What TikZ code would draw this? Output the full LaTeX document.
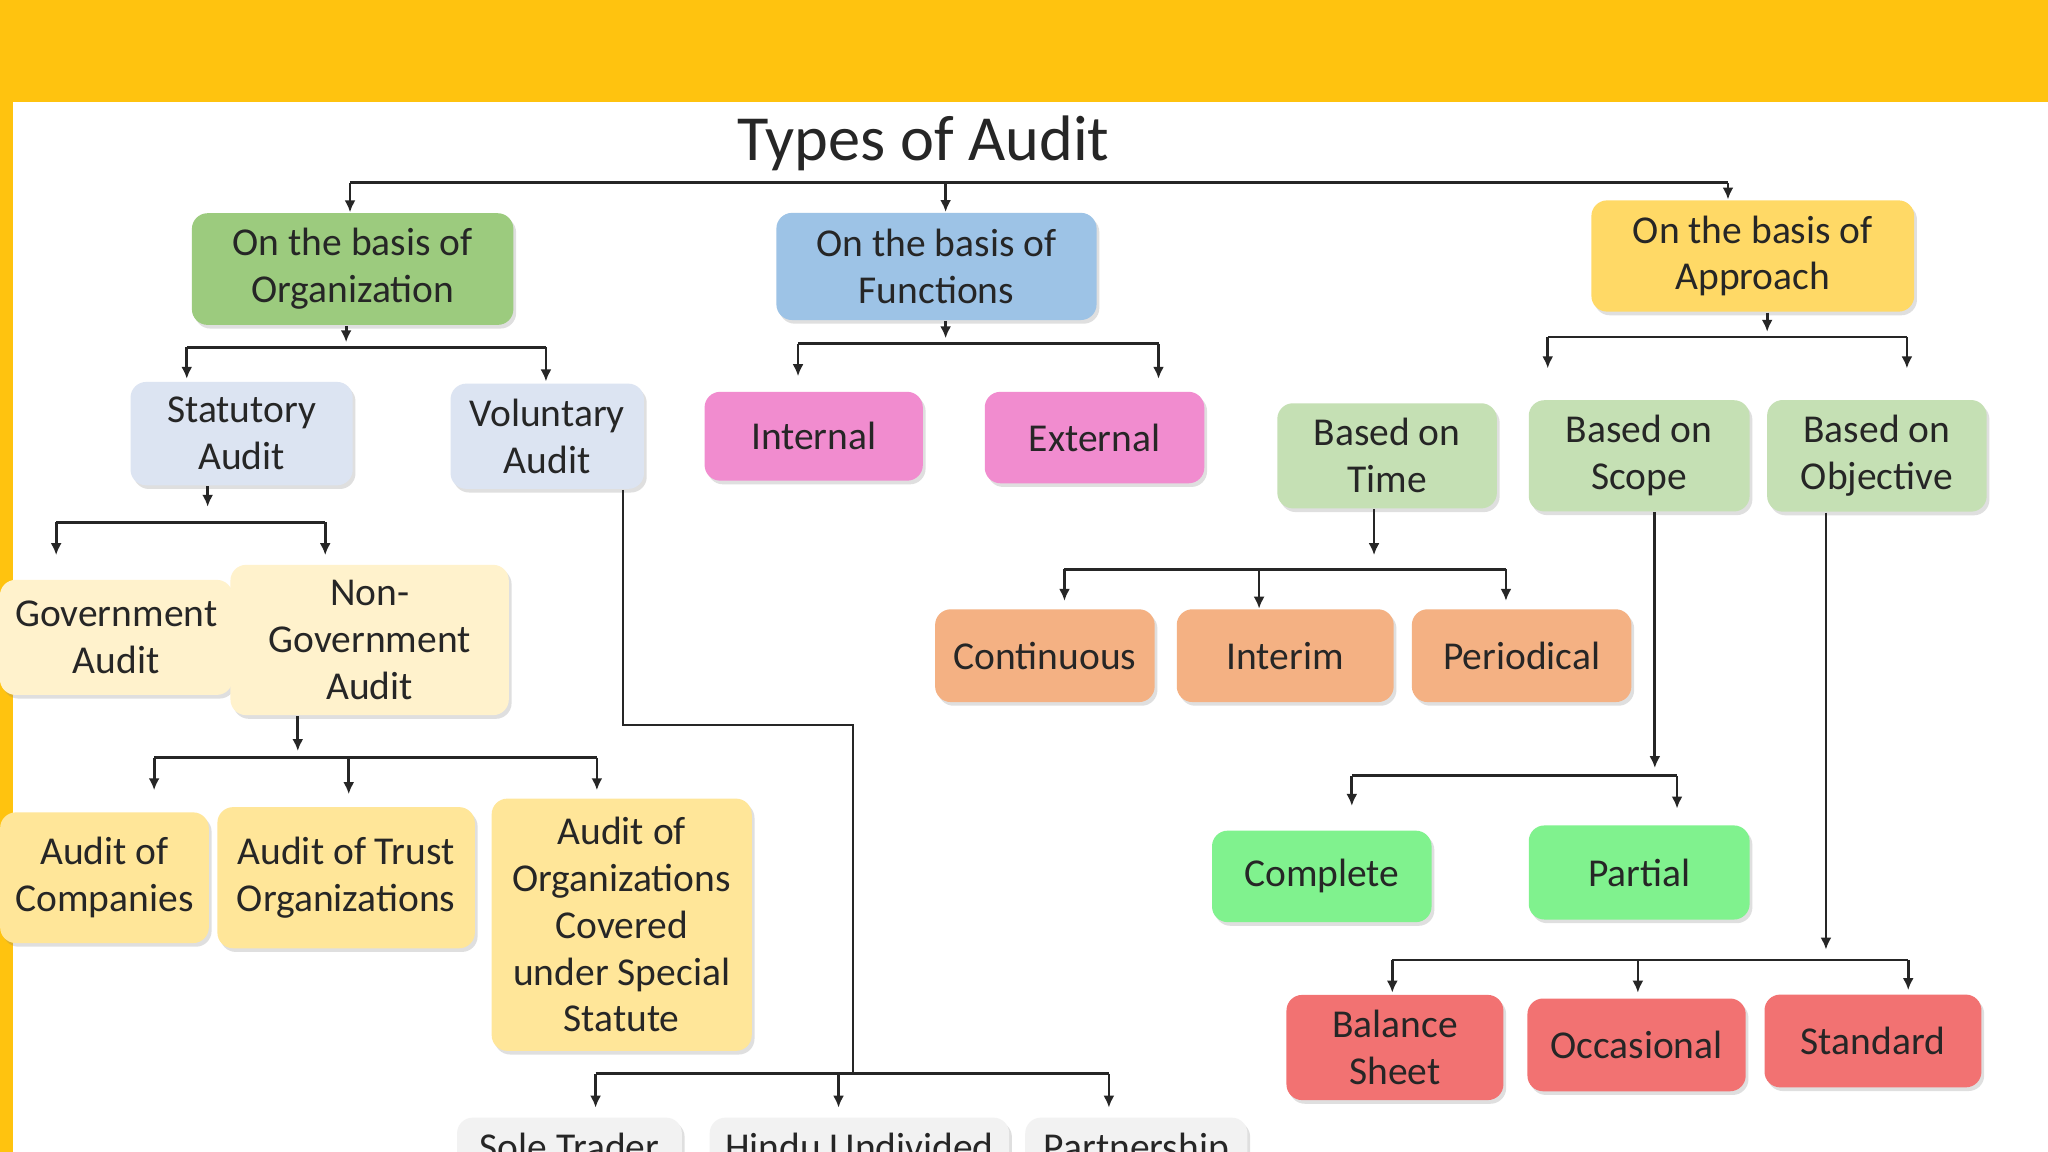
\documentclass[tikz,border=0pt]{standalone}
\usepackage{fontspec}
\setmainfont{Carlito}
\usetikzlibrary{arrows.meta,shadows}
\definecolor{band}{HTML}{FFC30F}
\definecolor{cOrg}{HTML}{9CCB7E}
\definecolor{cFun}{HTML}{9DC3E6}
\definecolor{cApp}{HTML}{FFD966}
\definecolor{cStat}{HTML}{DCE4F2}
\definecolor{cPink}{HTML}{F18CCF}
\definecolor{cLG}{HTML}{C5E0B4}
\definecolor{cCream}{HTML}{FFF2CC}
\definecolor{cOr}{HTML}{F4B183}
\definecolor{cYel}{HTML}{FFE699}
\definecolor{cGr}{HTML}{80F28E}
\definecolor{cRed}{HTML}{F27272}
\definecolor{cGray}{HTML}{F2F2F2}
\tikzset{
 box/.style={rounded corners=0.12cm, draw=none, align=center, font=\fontsize{8.6}{10.2}\selectfont, text=black!85,
   drop shadow={shadow xshift=0.6pt,shadow yshift=-0.8pt,opacity=0.25}},
 ln/.style={line width=0.6pt, black!85},
 ar/.style={ln, -{Latex[length=2.6pt,width=2.4pt]}},
}
\begin{document}
\begin{tikzpicture}[x=0.01cm,y=-0.01cm]
\useasboundingbox (0,0) rectangle (1568,882);
\clip (0,0) rectangle (1568,882);
\fill[white] (0,0) rectangle (1568,882);
\fill[band] (0,0) rectangle (1568,78);
\fill[band] (0,0) rectangle (10,882);
\node[font=\fontsize{14}{16}\selectfont, text=black!85] (title) at (707,110) {Types of Audit};
% level 1
\node[box, fill=cOrg, minimum width=2.46cm, minimum height=0.82cm] (org) at (270,206) {On the basis of\\Organization};
\node[box, fill=cFun, minimum width=2.45cm, minimum height=0.82cm] (fun) at (717,204) {On the basis of\\Functions};
\node[box, fill=cApp, minimum width=2.47cm, minimum height=0.82cm] (app) at (1342,196) {On the basis of\\Approach};
% level 2
\node[box, fill=cStat, minimum width=1.70cm, minimum height=0.71cm] (stat) at (185,332) {Statutory\\Audit};
\node[box, fill=cStat, minimum width=1.48cm, minimum height=0.75cm] (vol) at (419,334) {Voluntary\\Audit};
\node[box, fill=cPink, minimum width=1.67cm, minimum height=0.68cm] (int) at (623,334) {Internal};
\node[box, fill=cPink, minimum width=1.68cm, minimum height=0.70cm] (ext) at (838,335) {External};
\node[box, fill=cLG, minimum width=1.68cm, minimum height=0.72cm] (time) at (1062,349) {Based on\\Time};
\node[box, fill=cLG, minimum width=1.69cm, minimum height=0.72cm] (scope) at (1255,349) {Based on\\Scope};
\node[box, fill=cLG, minimum width=1.68cm, minimum height=0.72cm] (obj) at (1437,349) {Based on\\Objective};
% level 3
\node[box, fill=cCream, minimum width=1.54cm, minimum height=0.88cm] (gov) at (89,488) {Government\\Audit};
\node[box, fill=cCream, minimum width=2.13cm, minimum height=1.15cm] (ngov) at (283,490) {Non-\\Government\\Audit};
\node[box, fill=cOr, minimum width=1.68cm, minimum height=0.71cm] (cont) at (800,502) {Continuous};
\node[box, fill=cOr, minimum width=1.66cm, minimum height=0.71cm] (inter) at (984,502) {Interim};
\node[box, fill=cOr, minimum width=1.68cm, minimum height=0.71cm] (peri) at (1165,502) {Periodical};
% level 4
\node[box, fill=cYel, minimum width=1.36cm, minimum height=1.00cm] (comp) at (80,672) {Audit of\\Companies};
\node[box, fill=cYel, minimum width=1.97cm, minimum height=1.08cm] (trust) at (265,672) {Audit of Trust\\Organizations};
\node[box, fill=cYel, minimum width=1.99cm, minimum height=1.93cm] (spec) at (476,708) {Audit of\\Organizations\\Covered\\under Special\\Statute};
\node[box, fill=cGr, minimum width=1.68cm, minimum height=0.70cm] (cmpl) at (1012,671) {Complete};
\node[box, fill=cGr, minimum width=1.69cm, minimum height=0.72cm] (part) at (1255,668) {Partial};
\node[box, fill=cRed, minimum width=1.66cm, minimum height=0.71cm] (bal) at (1068,802) {Balance\\Sheet};
\node[box, fill=cRed, minimum width=1.67cm, minimum height=0.71cm] (occ) at (1253,800) {Occasional};
\node[box, fill=cRed, minimum width=1.66cm, minimum height=0.71cm] (std) at (1434,797) {Standard};
% bottom (cut off)
\node[box, fill=cGray, minimum width=1.72cm, minimum height=0.70cm, anchor=north] (sole) at (436,855) {Sole Trader\\\phantom{x}};
\node[box, fill=cGray, minimum width=2.10cm, minimum height=0.70cm, anchor=north] (huf) at (658,855) {Hindu Undivided\\Family};
\node[box, fill=cGray, minimum width=1.70cm, minimum height=0.70cm, anchor=north] (prt) at (870,855) {Partnership\\\phantom{x}};
% connectors: top
\coordinate (t1) at (268,140); \coordinate (t2) at (724,140); \coordinate (t3) at (1323,140);
\draw[ln] (t1) -- (t3);
\draw[ar] (t1) -- (t1|-org.north);
\draw[ar] (t2) -- (t2|-fun.north);
\draw[ar] (t3) -- (t3|-app.north);
% org
\coordinate (o0) at (265,262); \coordinate (o1) at (143,266); \coordinate (o2) at (418,266);
\draw[ar] (o0|-org.south) -- (o0);
\draw[ln] (o1) -- (o2);
\draw[ar] (o1) -- (143,290);
\draw[ar] (o2) -- (418,292);
% functions
\coordinate (f0) at (724,259); \coordinate (f1) at (611,263); \coordinate (f2) at (887,263);
\draw[ar] (f0|-fun.south) -- (f0);
\draw[ln] (f1) -- (f2);
\draw[ar] (f1) -- (611,288);
\draw[ar] (f2) -- (887,290);
% approach
\coordinate (a0) at (1353,254); \coordinate (a1) at (1185,258); \coordinate (a2) at (1460,258);
\draw[ar] (a0|-app.south) -- (a0);
\draw[ln] (a1) -- (a2);
\draw[ar] (a1) -- (1185,282);
\draw[ar] (a2) -- (1460,282);
% statutory
\coordinate (s0) at (159,388); \coordinate (s1) at (43,400); \coordinate (s2) at (249,400);
\draw[ar] (s0|-stat.south) -- (s0);
\draw[ln] (s1) -- (s2);
\draw[ar] (s1) -- (43,425);
\draw[ar] (s2) -- (249,425);
% non-gov
\coordinate (n0) at (228,575); \coordinate (n1) at (118,580); \coordinate (n2) at (267,580); \coordinate (n3) at (457,580);
\draw[ar] (n0|-ngov.south) -- (n0);
\draw[ln] (n1) -- (n3);
\draw[ar] (n1) -- (118,605);
\draw[ar] (n2) -- (267,608);
\draw[ar] (n3) -- (457,605);
% voluntary
\coordinate (v1) at (477,555); \coordinate (v2) at (653,555); \coordinate (v3) at (653,822);
\coordinate (b1) at (456,822); \coordinate (b2) at (642,822); \coordinate (b3) at (849,822);
\draw[ln] (v1|-vol.south) -- (v1) -- (v2) -- (v3);
\draw[ln] (b1) -- (b3);
\draw[ar] (b1) -- (456,848);
\draw[ar] (b2) -- (642,848);
\draw[ar] (b3) -- (849,848);
% time
\coordinate (m0) at (1052,425); \coordinate (m1) at (815,436); \coordinate (m2) at (964,436); \coordinate (m3) at (1153,436);
\draw[ar] (m0|-time.south) -- (m0);
\draw[ln] (m1) -- (m3);
\draw[ar] (m1) -- (815,460);
\draw[ar] (m2) -- (964,466);
\draw[ar] (m3) -- (1153,460);
% scope
\coordinate (c0) at (1267,588); \coordinate (c1) at (1035,594); \coordinate (c2) at (1284,594);
\draw[ar] (c0|-scope.south) -- (c0);
\draw[ln] (c1) -- (c2);
\draw[ar] (c1) -- (1035,617);
\draw[ar] (c2) -- (1284,619);
% objective
\coordinate (d0) at (1398,727); \coordinate (d1) at (1066,735); \coordinate (d2) at (1254,735); \coordinate (d3) at (1461,735);
\draw[ar] (d0|-obj.south) -- (d0);
\draw[ln] (d1) -- (d3);
\draw[ar] (d1) -- (1066,760);
\draw[ar] (d2) -- (1254,760);
\draw[ar] (d3) -- (1461,758);
\end{tikzpicture}
\end{document}
